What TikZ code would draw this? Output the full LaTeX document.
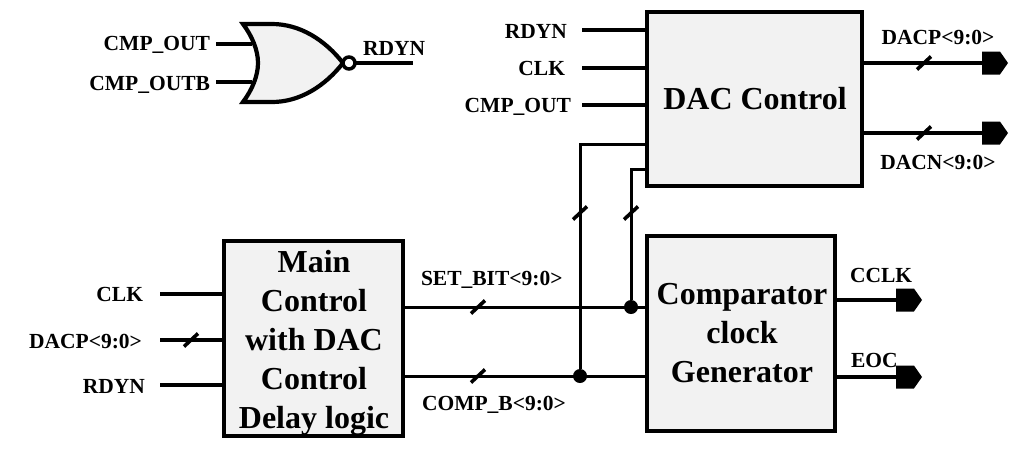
\documentclass[tikz,border=0pt]{standalone}
\usepackage{fontspec}
\setmainfont{Liberation Serif}
\usetikzlibrary{shapes.symbols,calc}
\tikzset{
  block/.style={draw=black,fill=black!5,line width=4pt,inner sep=0pt,outer sep=0pt},
  blocktext/.style={inner sep=0pt,outer sep=0pt,align=center,font=\fontsize{32}{39}\selectfont\bfseries},
  lbl/.style={inner sep=0pt,outer sep=0pt,font=\fontsize{21.5}{24}\selectfont\bfseries},
  wire/.style={line width=4pt,line cap=butt},
  thinwire/.style={line width=3pt},
  slashmark/.style={line width=3.6pt},
  dotnode/.style={circle,fill=black,inner sep=0pt,minimum size=14pt,outer sep=0pt},
  pinnode/.style={signal,signal to=east,signal pointer angle=110,fill=black,inner sep=0pt,outer sep=0pt,minimum width=26pt,minimum height=23pt,anchor=west},
  bubble/.style={circle,draw=black,fill=white,line width=3.5pt,inner sep=0pt,minimum size=12pt,outer sep=0pt}
}
\newcommand{\busslash}[1]{\draw[slashmark] ($(#1)+(-7,6.5)$) -- ($(#1)+(7,-6.5)$);}
\begin{document}
\begin{tikzpicture}[x=1pt,y=-1pt]
\useasboundingbox (0,0) rectangle (1035,451);

% blocks
\node[block,minimum width=215pt,minimum height=174pt] (dac) at (754.5,99) {};
\node[blocktext] (dact) at (755,99) {DAC Control};
\node[block,minimum width=188pt,minimum height=195pt] (cmp) at (741,333.5) {};
\node[blocktext] (cmpt) at (742,333.5) {Comparator\\clock\\Generator};
\node[block,minimum width=179pt,minimum height=195pt] (main) at (313.5,338.5) {};
\node[blocktext] (maint) at (314,343) {Main\\Control\\with DAC\\Control\\Delay logic};

% NOR gate
\draw[line width=4.2pt,fill=black!5,line join=miter] (243,24) .. controls (252,36) and (258,50) .. (258,63) .. controls (258,76) and (252,90) .. (243,102) -- (272,102) .. controls (300,102) and (325,86) .. (343,63) .. controls (325,40) and (300,24) .. (272,24) -- cycle;
\node[bubble] (nb) at (349,63) {};
\coordinate (ga) at (252,44);
\coordinate (gb) at (252,82);
\coordinate (nora) at (216,44);
\coordinate (norb) at (216,82);
\coordinate (noro) at (413,63);
\draw[wire] (nora) -- (ga);
\draw[wire] (norb) -- (gb);
\draw[wire] (nb.east) -- (noro);
\node[lbl,anchor=east] (l1) at (210,45) {CMP\_OUT};
\node[lbl,anchor=east] (l2) at (210,84.5) {CMP\_OUTB};
\node[lbl,anchor=west] (l3) at (363,48.5) {RDYN};

% DAC Control inputs
\coordinate (d1) at (582,30);
\coordinate (d2) at (582,68);
\coordinate (d3) at (582,105);
\draw[wire] (d1) -- (d1 -| dac.west);
\draw[wire] (d2) -- (d2 -| dac.west);
\draw[wire] (d3) -- (d3 -| dac.west);
\node[lbl,anchor=east] (l4) at (567,31) {RDYN};
\node[lbl,anchor=east] (l5) at (565,68) {CLK};
\node[lbl,anchor=east] (l6) at (571,107) {CMP\_OUT};

% DAC Control outputs
\node[pinnode] (pp) at (982,63) {};
\node[pinnode] (pn) at (982,133) {};
\draw[wire] (pp.west -| dac.east) -- (pp.west);
\draw[wire] (pn.west -| dac.east) -- (pn.west);
\coordinate (sp) at (924,63);
\coordinate (sn) at (924,133);
\busslash{sp}
\busslash{sn}
\node[lbl] (l7) at (938,37) {DACP<9:0>};
\node[lbl] (l8) at (938,162) {DACN<9:0>};

% Comparator outputs
\node[pinnode] (pc) at (896,300) {};
\node[pinnode] (pe) at (896,377) {};
\draw[wire] (pc.west -| cmp.east) -- (pc.west);
\draw[wire] (pe.west -| cmp.east) -- (pe.west);
\node[lbl,anchor=west] (l9) at (850,275) {CCLK};
\node[lbl,anchor=west] (l10) at (851,360) {EOC};

% Main inputs
\coordinate (m1) at (160,294);
\coordinate (m2) at (160,340);
\coordinate (m3) at (160,385);
\draw[wire] (m1) -- (m1 -| main.west);
\draw[wire] (m2) -- (m2 -| main.west);
\draw[wire] (m3) -- (m3 -| main.west);
\coordinate (sm) at (191,340);
\busslash{sm}
\node[lbl,anchor=east] (l11) at (143,294) {CLK};
\node[lbl,anchor=east] (l12) at (142,341) {DACP<9:0>};
\node[lbl,anchor=east] (l13) at (145,386) {RDYN};

% Buses
\node[dotnode] (ds) at (631,307) {};
\node[dotnode] (dc) at (580,376) {};
\draw[thinwire] (main.east |- ds) -- (cmp.west |- ds);
\draw[thinwire] (main.east |- dc) -- (cmp.west |- dc);
\coordinate (t1) at (580,144);
\coordinate (t2) at (631,169);
\draw[thinwire] (t1 -| dac.west) -- (t1) -- (dc);
\draw[thinwire] (t2 -| dac.west) -- (t2) -- (ds);
\coordinate (s1) at (478,307);
\coordinate (s2) at (478,376);
\coordinate (s3) at (580,213);
\coordinate (s4) at (631,213);
\busslash{s1}
\busslash{s2}
\busslash{s3}
\busslash{s4}
\node[lbl,anchor=west] (l14) at (421,279.5) {SET\_BIT<9:0>};
\node[lbl,anchor=west] (l15) at (422,405) {COMP\_B<9:0>};
\end{tikzpicture}
\end{document}
